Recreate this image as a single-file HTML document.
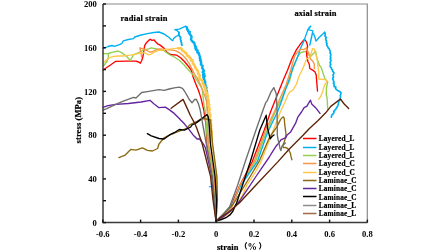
<!DOCTYPE html>
<html><head><meta charset="utf-8"><style>
html,body{margin:0;padding:0;background:#fff;}
body{width:448px;height:252px;overflow:hidden;}
svg{display:block;}
text{font-family:"Liberation Serif","Noto Serif CJK SC",serif;font-weight:bold;fill:#000;stroke:#000;stroke-width:0;}
.b,.b text{stroke-width:0.2;}
.cjk{font-family:"Liberation Sans","Noto Sans CJK SC",sans-serif;font-weight:900;}
</style></head><body>
<svg width="448" height="252" viewBox="0 0 448 252">
<rect width="448" height="252" fill="#fff"/>
<g fill="none" stroke-width="1.35" stroke-linejoin="round" stroke-linecap="round">
<polyline points="216.0,221.2 223.3,214.5 227.8,209.8 231.8,205.0 240.5,185.0 255.4,161.7 266.0,133.0 277.0,108.0 281.1,99.8 283.5,93.8 285.9,87.9 289.5,81.3 292.3,70.0 295.8,61.0 298.5,55.0 301.0,52.5 303.0,52.0 305.4,51.3 308.0,54.5 310.5,56.4 313.0,53.9 315.6,51.3 316.8,57.7 319.4,65.3 321.3,67.6 324.5,77.8 327.7,82.2 326.4,88.0 326.3,95.4 327.1,97.7 327.7,109.1" stroke="#92D050"/>
<polyline points="103.0,70.0 110.5,65.0 115.7,61.3 126.0,61.2 136.0,61.1 138.5,62.0 140.3,63.2 141.8,60.5 143.1,56.0 144.2,48.2 144.8,45.4 146.4,42.7 148.7,40.4 150.3,39.3 152.0,40.4 154.2,39.9 155.3,41.6 157.6,43.8 159.8,44.9 162.0,46.6 164.0,48.2 166.6,52.0 170.4,54.5 176.8,55.2 180.6,57.7 184.4,61.5 188.2,66.0 191.4,70.4 193.3,77.6 195.8,84.0 198.4,90.3 200.9,97.9 203.8,110.0 206.0,125.0 207.0,143.0 212.5,176.0 215.0,200.0 216.0,221.2" stroke="#FF0000"/>
<polyline points="216.0,221.2 223.0,214.6 227.6,210.0 231.5,205.0 240.0,185.0 252.2,161.7 261.7,136.7 264.3,130.0 270.6,111.7 275.7,99.0 280.8,86.3 283.3,80.0 287.6,70.0 292.0,58.5 296.5,49.6 300.9,43.4 304.5,39.3 306.3,41.6 307.2,44.3 307.6,46.9 306.7,52.3 306.7,55.2 307.9,61.5 309.2,64.0 309.8,68.5 313.0,70.4 314.9,71.7 316.2,75.1 316.8,82.7 317.5,91.0" stroke="#FF0000"/>
<polyline points="103.6,48.4 108.0,46.5 111.9,45.5 114.4,46.3 119.5,44.6 122.0,43.3 123.3,40.8 128.4,39.5 133.5,38.6 134.7,37.0 141.0,35.0 147.4,33.6 153.8,32.5 159.0,32.0 164.1,34.0 166.0,35.4 169.1,37.5 171.7,40.1 172.7,40.6 173.7,38.5 175.8,36.5 178.4,35.4 178.9,32.3 177.0,30.5 174.8,29.7 179.4,29.2 182.5,27.7 185.6,26.1 186.7,27.2" stroke="#00B0F0"/>
<polyline points="186.7,27.2 187.1,28.3 187.1,29.6 188.2,30.3 188.2,31.4 189.9,31.8 189.0,33.2 189.8,34.0 190.4,34.9 191.1,35.8 191.6,36.7 191.3,38.0 191.0,39.3 191.5,40.2 192.1,41.1 192.8,42.0 193.9,42.4 194.4,43.1 194.5,44.1 194.8,45.0 194.9,46.0 196.0,46.5 195.2,47.9 196.4,48.3 195.8,49.6 197.1,50.0 197.7,50.7 197.2,52.0 197.7,52.7 199.0,53.1 198.8,54.2 199.3,55.0 199.6,56.0 200.1,56.9 199.7,58.1 200.6,59.0 200.0,60.2 201.0,61.0 200.9,62.1 201.3,63.0 200.8,64.2 201.6,65.1 202.7,65.9 202.3,67.0 202.2,68.0 203.0,68.9 203.2,69.9 204.0,70.8 202.6,72.1 203.3,73.0 204.3,73.8 202.9,75.2 204.8,75.8 203.2,77.2 204.3,78.0 203.8,79.0 204.4,79.8 204.8,80.7 205.2,81.5 204.9,82.5 205.3,83.3 204.6,84.3 205.5,85.1 205.6,86.0 206.0,86.9 206.6,87.7 205.8,88.7 205.8,89.6 206.7,90.4 206.9,91.3 207.0,92.2 207.0,93.1 206.5,94.1 206.8,95.0" stroke="#00B0F0" stroke-width="2.4"/>
<polyline points="206.8,95.0 207.5,110.0 207.8,128.0 208.0,143.0 213.5,176.0 215.5,200.0 216.0,221.2" stroke="#00B0F0"/>
<polyline points="216.0,221.2 223.5,214.3 228.0,209.5 232.0,205.0 241.0,185.0 257.3,161.7 267.5,132.5 277.6,111.7 282.0,100.0 286.0,88.0 288.3,81.9 292.7,68.2 296.3,59.9 298.7,54.0 299.9,49.8 302.5,44.0 304.1,40.6 306.2,34.4 307.7,30.2 309.3,27.2 310.8,26.1 309.0,28.5 307.7,29.7 310.3,30.2 312.9,30.8 311.5,37.0 309.8,45.2 311.0,40.0 312.4,33.3 313.4,33.3 315.0,37.5 316.0,41.1 317.0,40.0 319.1,37.5 322.2,34.4 324.7,32.3" stroke="#00B0F0"/>
<polyline points="324.7,32.3 324.9,33.4 325.3,34.4 325.0,35.5 325.2,36.5 326.3,37.4 325.8,38.5 325.7,39.6 326.2,40.5 326.6,41.5 326.3,42.6 327.1,43.5 326.6,44.8 327.1,45.8 327.8,46.7 328.2,47.9 329.3,48.8 329.5,50.1 330.2,51.0 330.2,52.1 330.1,53.2 330.8,54.1 330.8,55.2 330.3,56.4 330.9,57.6 330.2,58.8 330.9,60.0 330.9,61.1 330.2,62.0 330.2,63.1 330.8,64.2 330.2,65.2 330.2,66.3 330.7,67.2 331.4,68.0 331.6,69.2 332.5,69.9 332.5,71.1 333.3,71.9 334.0,72.7 333.7,73.7 333.1,74.7 333.2,75.8 333.6,77.0 332.8,77.9 332.8,79.0 333.3,80.0 333.5,81.1 334.1,82.1 333.3,83.3 334.3,84.2 334.0,85.4 334.2,86.6 335.8,86.9 335.5,88.5 336.2,89.4 337.2,90.1 338.1,90.8 339.1,91.3 340.1,91.8 341.0,92.6 340.8,93.6 340.8,94.6 340.2,95.6 340.5,96.7 340.4,97.7 340.2,98.8 340.1,99.9 339.2,100.7 338.7,101.7 338.5,102.8 338.4,104.0 338.0,105.0 337.6,106.1 337.1,107.1 336.3,108.0 336.0,109.1 335.1,109.7 334.7,110.7 333.8,111.3 334.0,112.6 333.5,113.4 332.8,114.2 331.9,115.0 331.5,116.0 331.4,117.2" stroke="#00B0F0" stroke-width="1.7"/>
<polyline points="178.9,32.3 179.0,33.3 178.8,34.4 179.4,35.4 179.5,36.5 180.7,37.3 180.5,38.5 180.4,39.6 181.0,40.5 181.0,41.6 181.6,42.8 181.5,44.2 182.0,45.2" stroke="#00B0F0" stroke-width="1.8"/>
<polyline points="103.6,53.7 108.3,53.5 113.0,52.2 118.2,51.0 122.0,52.9 127.0,56.7 130.3,60.5 133.5,54.8 138.6,52.6 143.6,50.0 148.7,48.8 151.3,47.8 156.3,49.0 159.0,50.0 164.1,50.7 169.2,54.5 174.2,57.0 179.3,60.2 184.4,65.3 188.2,69.8 192.0,73.6 194.6,76.7 198.0,82.0 202.2,89.0 204.1,105.7 205.2,110.7 206.5,128.0 207.5,143.0 213.0,176.0 215.0,200.0 216.0,221.2" stroke="#92D050"/>
<polyline points="108.3,53.4 108.3,58.5 106.8,61.5 105.0,64.0 103.6,65.8" stroke="#92D050"/>
<polyline points="141.6,57.0 140.8,52.0 139.8,47.8 143.6,49.0 147.0,50.5 150.0,52.2 153.0,51.5 156.0,49.8 159.0,48.8 166.0,49.5 171.7,50.1 175.5,50.7 179.3,52.6 183.1,55.8 186.3,59.0 189.5,64.0 192.0,69.1 195.2,75.5 197.1,77.6 199.6,82.7 202.2,89.0 204.7,95.4 206.6,101.7 207.5,115.0 208.2,143.0 214.0,176.0 215.8,200.0 216.0,221.2" stroke="#F79646"/>
<polyline points="216.0,221.2 223.2,214.6 227.6,210.1 231.9,207.0 240.0,185.0 254.1,161.7 265.6,130.0 274.4,111.7 280.8,96.5 286.0,85.0 290.8,70.0 294.7,55.9 298.3,51.4 300.9,49.2 303.6,49.6 305.4,48.7 306.7,47.5 307.2,50.5 308.5,52.3 310.5,59.0 313.0,61.5 314.3,64.0 314.3,68.5" stroke="#F79646"/>
<polyline points="103.6,62.4 108.1,58.5 112.5,56.7 117.7,56.0 122.0,56.0 130.0,55.2 136.0,54.2 142.0,52.7 145.5,53.0 148.7,54.9 150.9,54.3 154.2,52.1 158.7,50.4 164.0,49.9 166.6,49.4 171.7,48.8 178.0,48.2" stroke="#FFC84A"/>
<polyline points="178.0,48.2 179.0,48.4 180.2,48.1 181.1,48.6 181.9,49.4 182.2,50.6 183.4,50.7 184.1,51.5 184.6,52.4 185.7,52.6 186.0,53.5 186.9,54.0 187.1,54.9 187.4,55.8 188.6,56.1 189.4,56.6 189.5,57.7 190.6,58.1 190.8,59.2 190.9,60.5 192.5,60.3 192.7,61.5 192.9,62.4 192.8,63.5 193.7,64.2 194.3,64.9 194.5,65.9 195.2,66.6 195.1,67.7 196.0,68.3 196.3,69.2 196.9,70.0 197.8,70.6 197.7,71.7 198.2,72.6 198.2,73.7 199.1,74.5 199.6,75.4 199.6,76.5 199.4,77.7 199.8,78.6 200.3,79.5 201.7,79.9 202.2,80.8 202.6,81.7 202.8,82.7 203.0,83.7 203.6,84.5 204.1,85.3 203.8,86.5 205.1,87.0 205.4,87.9 205.3,89.0 205.6,89.9 205.6,90.9 206.4,91.7 206.7,92.6 206.4,93.7 207.5,94.3 207.3,95.4 208.1,96.2 207.7,97.2 207.3,98.2 208.3,98.9 208.3,99.9 208.9,100.7 208.5,101.7 208.5,102.6 208.3,103.6 209.3,104.5 208.2,105.5 208.8,106.4 209.4,107.3 208.8,108.3 209.9,109.2 209.8,110.1 208.8,111.2 208.8,112.1 209.5,113.0 209.5,113.9 210.5,114.8 209.7,115.8 210.2,116.7 210.0,117.6 209.8,118.6 210.4,119.5 211.1,120.3 209.8,121.4 210.6,122.2 210.6,123.2 211.0,124.1 211.0,125.0 211.4,125.9 210.3,126.8 210.6,127.7 211.3,128.6 210.8,129.5 210.6,130.4 211.9,131.3 211.4,132.2 211.8,133.1 211.8,134.0 211.0,134.9 211.4,135.8 211.3,136.7 211.9,137.6 211.0,138.5 212.0,139.4 211.8,140.3 211.2,141.2 211.5,142.1 212.0,143.0" stroke="#FFC84A" stroke-width="2.5"/>
<polyline points="212.0,143.0 216.5,176.0 217.4,200.0 216.0,221.2" stroke="#FFC84A"/>
<polyline points="216.0,221.2 222.0,218.0 228.0,214.0 233.0,209.5 236.5,205.0 239.5,200.0 243.0,194.0 247.0,185.0 255.4,172.0 260.5,163.0 273.2,130.4 280.0,112.8 285.1,101.7 287.6,95.4 290.2,91.6 292.7,90.3 296.5,84.0 299.0,76.3 302.2,70.0 306.7,59.0 309.9,57.0 311.2,53.2 312.5,48.7 314.3,48.8 315.2,53.2 316.2,55.2 317.5,61.5 318.1,67.9 318.8,72.7 318.8,79.0 325.2,79.7 327.0,81.0 324.5,85.4 322.6,91.7 320.6,96.7 318.7,99.2" stroke="#FFC84A"/>
<polyline points="118.9,157.6 125.2,155.1 129.7,150.6 130.9,149.4 136.0,150.1 142.4,147.9 147.4,150.4 152.5,151.0 157.6,148.5 159.0,144.0 164.1,137.8 167.9,135.9 171.7,134.0 176.8,132.1 181.9,130.2 186.9,128.3 189.5,125.1 193.3,123.2 197.1,121.3 200.0,119.5 204.0,118.5 210.5,120.0 212.5,143.0 216.9,176.7 217.4,200.0 216.0,221.2" stroke="#8B6A10"/>
<polyline points="216.0,221.2 223.8,214.4 228.5,209.3 233.0,204.5 245.0,185.0 252.9,172.0 259.0,161.7 269.4,137.6 273.2,132.0 276.7,127.2 278.6,123.4 280.5,119.6 282.4,117.4 283.6,116.9 284.3,119.0 284.7,124.0 285.4,129.7 286.0,134.0 285.4,138.3 284.0,142.6 282.8,145.4 283.3,147.6 285.4,147.5 287.6,148.3 289.0,150.4 290.4,153.3 291.1,156.9 291.9,159.7" stroke="#8B6A10"/>
<polyline points="103.0,107.3 108.0,105.6 115.7,104.3 128.4,103.5 141.1,102.0 150.0,100.3 153.8,103.7 159.0,107.7 165.3,107.1 169.2,109.6 174.2,113.4 179.3,118.5 180.6,120.0 184.4,123.8 189.5,130.2 193.3,135.2 197.1,139.0 199.6,139.0 203.4,144.1 205.5,148.0 211.8,176.7 214.0,200.0 216.0,221.2" stroke="#6424A0"/>
<polyline points="216.0,221.2 223.0,217.0 230.0,211.5 236.0,205.5 240.0,200.5 244.2,194.2 256.3,176.0 269.3,157.0 272.9,151.1 276.4,145.7 279.1,142.6 280.9,139.9 283.6,138.6 285.8,137.7 287.1,135.0 290.4,132.3 295.5,123.4 297.8,117.2 301.5,112.0 304.1,107.7 306.7,106.4 310.5,100.1 311.7,103.9 315.6,107.7 320.0,113.4" stroke="#6424A0"/>
<polyline points="147.4,133.6 151.3,135.8 159.0,138.5 164.1,139.0 169.2,135.2 174.2,132.7 179.3,129.5 184.4,130.2 190.7,127.0 192.0,125.0 196.3,122.9 200.6,119.6 204.1,116.8 207.0,114.6 208.1,116.4 208.8,120.7 209.5,128.0 210.3,143.0 215.0,176.0 216.5,200.0 216.0,221.2" stroke="#000000"/>
<polyline points="216.0,221.2 221.4,219.5 225.9,217.7 230.3,214.6 233.0,211.0 234.8,206.6 236.6,203.0 242.6,185.0 250.3,161.7 259.8,130.0 266.2,115.2 266.8,121.5 267.5,127.9 268.1,130.4 270.2,138.8 272.0,136.5 274.0,135.0" stroke="#000000"/>
<polyline points="103.0,110.2 106.8,108.7 115.7,104.3 123.3,101.1 133.5,97.3 136.0,98.0 141.7,92.5 147.4,91.6 159.0,89.7 164.1,90.3 169.2,89.0 174.2,87.8 179.3,87.1 182.5,88.4 184.4,91.0 187.0,95.4 189.5,99.8 192.0,102.8 194.6,99.5 196.3,99.3 198.4,103.6 200.2,110.0 202.7,124.3 203.4,128.0 206.1,143.0 212.0,176.0 214.5,200.0 216.0,221.2" stroke="#6E6E6E"/>
<polyline points="216.0,221.2 222.0,215.5 226.0,211.0 229.6,207.0 237.7,185.0 245.2,161.7 256.0,130.0 262.4,111.7 265.6,102.9 267.5,100.3 270.6,92.7 273.8,87.6 275.1,90.8 276.3,94.0 277.1,112.0 277.3,135.0 278.2,140.4 279.1,143.9 280.0,148.4 280.9,150.6 281.8,146.6 283.6,144.8 285.4,143.0" stroke="#6E6E6E"/>
<polyline points="171.1,108.3 183.1,99.4 186.3,106.4 190.4,115.5 194.3,122.6 196.6,127.8 202.0,143.0 210.6,176.7 213.0,200.0 216.0,221.2" stroke="#5E2206"/>
<polyline points="216.0,221.2 221.4,216.8 227.6,212.8 233.9,207.5 239.3,203.0 256.0,185.0 277.8,161.9 289.3,149.0 303.3,135.0 309.4,128.5 318.1,120.4 325.7,112.8 330.8,106.4 340.4,99.0 344.2,104.0 348.7,108.5" stroke="#5E2206"/>
<line x1="208.9" y1="186.7" x2="210.9" y2="186.7" stroke="#00B0F0" stroke-width="1.2" stroke-linecap="butt"/>
</g>
<path d="M103.0,4.0 H367.3 V222.6" fill="none" stroke="#8a8a8a" stroke-width="1.2"/>
<path d="M103.0,4.0 V222.6 H367.3" fill="none" stroke="#3a3a3a" stroke-width="1.5"/>
<g stroke="#111" stroke-width="1.4">
<line x1="103.0" y1="222.6" x2="106.0" y2="222.6"/>
<line x1="103.0" y1="200.7" x2="106.0" y2="200.7"/>
<line x1="103.0" y1="178.9" x2="106.0" y2="178.9"/>
<line x1="103.0" y1="157.0" x2="106.0" y2="157.0"/>
<line x1="103.0" y1="135.2" x2="106.0" y2="135.2"/>
<line x1="103.0" y1="113.3" x2="106.0" y2="113.3"/>
<line x1="103.0" y1="91.4" x2="106.0" y2="91.4"/>
<line x1="103.0" y1="69.6" x2="106.0" y2="69.6"/>
<line x1="103.0" y1="47.7" x2="106.0" y2="47.7"/>
<line x1="103.0" y1="25.9" x2="106.0" y2="25.9"/>
<line x1="103.0" y1="4.0" x2="106.0" y2="4.0"/>
<line x1="102.8" y1="222.6" x2="102.8" y2="219.6"/>
<line x1="140.6" y1="222.6" x2="140.6" y2="219.6"/>
<line x1="178.4" y1="222.6" x2="178.4" y2="219.6"/>
<line x1="216.2" y1="222.6" x2="216.2" y2="219.6"/>
<line x1="254.0" y1="222.6" x2="254.0" y2="219.6"/>
<line x1="291.8" y1="222.6" x2="291.8" y2="219.6"/>
<line x1="329.6" y1="222.6" x2="329.6" y2="219.6"/>
<line x1="367.4" y1="222.6" x2="367.4" y2="219.6"/>
</g>
<g font-size="8.6">
<text x="96.8" y="225.8" text-anchor="end">0</text>
<text x="96.8" y="182.1" text-anchor="end">40</text>
<text x="96.8" y="138.4" text-anchor="end">80</text>
<text x="96.8" y="94.6" text-anchor="end">120</text>
<text x="96.8" y="50.9" text-anchor="end">160</text>
<text x="96.8" y="7.2" text-anchor="end">200</text>
<text x="102.8" y="236.9" text-anchor="middle">-0.6</text>
<text x="140.6" y="236.9" text-anchor="middle">-0.4</text>
<text x="178.4" y="236.9" text-anchor="middle">-0.2</text>
<text x="216.2" y="236.9" text-anchor="middle">0</text>
<text x="254.0" y="236.9" text-anchor="middle">0.2</text>
<text x="291.8" y="236.9" text-anchor="middle">0.4</text>
<text x="329.6" y="236.9" text-anchor="middle">0.6</text>
<text x="367.4" y="236.9" text-anchor="middle">0.8</text>
</g>
<g stroke-width="1.5">
<line x1="303" y1="138.5" x2="316.5" y2="138.5" stroke="#FF0000"/>
<line x1="303" y1="147.5" x2="316.5" y2="147.5" stroke="#00B0F0"/>
<line x1="303" y1="155.5" x2="316.5" y2="155.5" stroke="#92D050"/>
<line x1="303" y1="163.5" x2="316.5" y2="163.5" stroke="#F79646"/>
<line x1="303" y1="172.5" x2="316.5" y2="172.5" stroke="#FFC84A"/>
<line x1="303" y1="180.5" x2="316.5" y2="180.5" stroke="#8B6A10"/>
<line x1="303" y1="188.5" x2="316.5" y2="188.5" stroke="#6424A0"/>
<line x1="303" y1="196.5" x2="316.5" y2="196.5" stroke="#000000"/>
<line x1="303" y1="205.5" x2="316.5" y2="205.5" stroke="#8C8C8C"/>
<line x1="303" y1="213.5" x2="316.5" y2="213.5" stroke="#A0694A"/>
</g>
<g font-size="7.3" letter-spacing="0.15" class="b">
<text x="318.8" y="141.4">Layered_L</text>
<text x="318.8" y="149.7">Layered_L</text>
<text x="318.8" y="158.0">Layered_L</text>
<text x="318.8" y="166.3">Layered_C</text>
<text x="318.8" y="174.6">Layered_C</text>
<text x="318.8" y="182.9">Laminae_C</text>
<text x="318.8" y="191.2">Laminae_C</text>
<text x="318.8" y="199.5">Laminae_C</text>
<text x="318.8" y="207.8">Laminae_L</text>
<text x="318.8" y="216.1">Laminae_L</text>
</g>
<text class="b" x="120.4" y="20.8" font-size="8.5" textLength="47.0" lengthAdjust="spacing">radial strain</text>
<text class="b" x="294.4" y="15.8" font-size="8.5" textLength="42.0" lengthAdjust="spacing">axial strain</text>
<text class="b" x="217.0" y="249.6" font-size="8.5" textLength="21.5" lengthAdjust="spacing">strain</text>
<text class="cjk" x="239.7" y="249.0" font-size="7.8">（</text>
<text x="247.6" y="249.7" font-size="9.4">%</text>
<text class="cjk" x="258.45" y="249.0" font-size="7.8">）</text>
<text class="b" transform="translate(80.8,143.4) rotate(-90)" font-size="8.5" textLength="46.4" lengthAdjust="spacing">stress (MPa)</text>
</svg>
</body></html>
